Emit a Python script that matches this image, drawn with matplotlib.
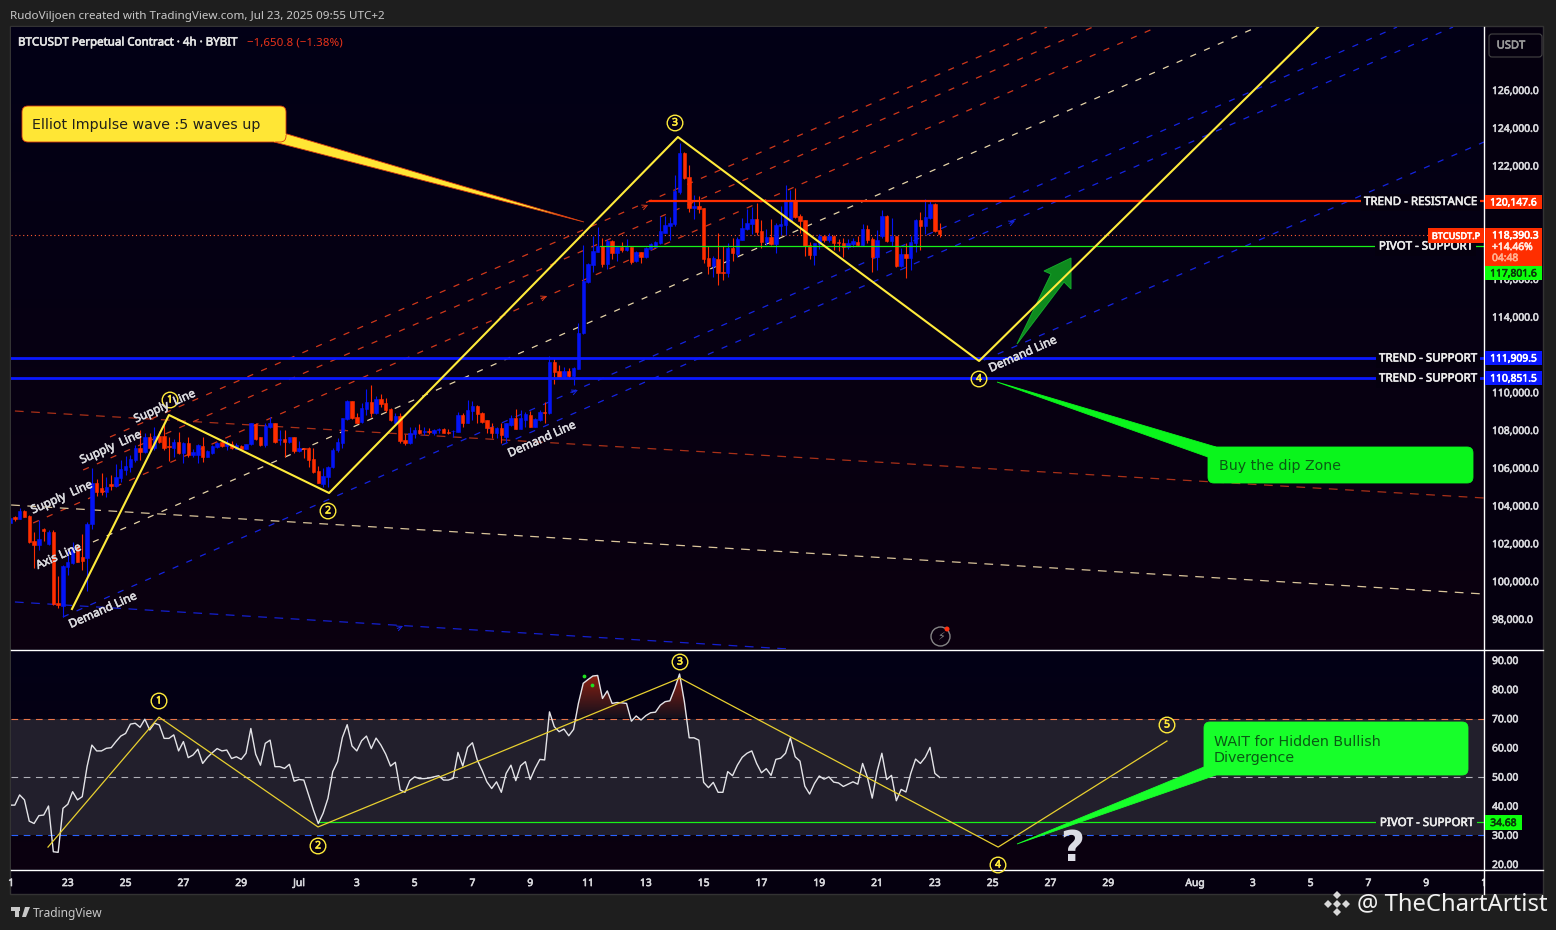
import numpy as np
import matplotlib
matplotlib.use('Agg')
import matplotlib.pyplot as plt
import matplotlib.patheffects as pe
from matplotlib.lines import Line2D
from matplotlib.patches import Polygon, Rectangle, FancyBboxPatch, Circle
from matplotlib.path import Path
from matplotlib.colors import LinearSegmentedColormap
from matplotlib.text import Text
from matplotlib.transforms import Affine2D

plt.rcParams['font.family'] = 'Noto Sans'

# 4h candles (Jun 21 - Jul 23)
opens = [103060,103380,103290,103730,103460,102100,101890,102740,101960,102620,98820,98680,100760,100940,101790,101290,101240,103020,105180,104910,
         104730,105140,105030,105460,105880,106060,106410,107030,106820,107610,107030,107680,107700,107150,107060,107360,106760,107330,106680,106680,
         107170,106550,106800,107080,107350,107170,107260,106990,107170,106990,107240,108320,107610,107190,108180,108390,107470,107520,107360,107610,
         106900,107030,107030,106450,105830,105140,105530,106020,106940,107290,108560,109530,108700,108420,109090,109480,108880,109640,109410,109090,
         108380,108760,107470,107290,107780,108000,107910,107940,107860,108000,108050,107910,107930,107910,108790,108380,109020,109270,108920,108530,
         108170,107860,108120,107640,108260,108630,108050,108530,108790,108170,108530,108950,108880,111600,111140,110820,111120,110860,111240,113120,
         115850,116730,117440,117740,116790,118000,117350,117700,117530,117700,116950,117420,117180,117560,117700,117880,118450,118800,118900,120620,
         122680,121390,119770,119860,119770,117090,116680,117030,116380,116290,117650,117320,118060,118640,118890,119170,118530,117930,118200,117830,
         118820,118850,119060,120160,119330,119120,117790,117260,117830,118270,118040,118270,117970,117900,117670,117850,117970,117790,118660,118110,
         117160,118290,119330,118000,118290,116680,117320,117100,117920,119120,118800,119220,119960,118590]
highs = [103500,103460,103850,103760,103500,102620,103230,102790,102700,102700,100270,100850,101640,102050,101910,102490,103150,105970,105400,105700,
         105530,105620,106200,106410,106620,106680,107200,108000,107820,107820,108140,107960,108350,107610,107500,107910,107380,107650,106980,107240,
         107650,106940,107200,107380,107470,107470,107430,107290,107200,107260,108390,108390,107610,108350,108670,108390,108000,108000,107650,107610,
         107430,107060,107120,107060,106110,105970,106090,107030,107560,108650,109580,109530,108880,109410,110150,110360,109800,109880,109670,109140,
         108880,108880,107780,108140,108170,108310,108140,108120,108050,108120,108080,108030,108000,108970,108880,109580,109550,109320,108970,108530,
         108350,108170,108350,108380,108790,109090,109060,108970,109020,108620,109060,109500,111910,111790,111440,111310,111280,111310,113680,117790,
         116820,118270,118760,118150,118090,118060,117700,117950,118130,117700,117490,117420,117670,117880,117990,119330,119330,119260,121500,123180,
         122700,122030,120440,120400,119770,117740,117210,118410,117740,117880,118150,118200,119200,119680,119820,120030,119120,118660,119170,118970,
         119860,120950,120700,120790,119430,119120,117970,117920,118370,118300,118410,118300,118110,118150,118090,118150,118270,118890,118830,118230,
         118590,119650,119380,119200,118290,117620,117880,118270,119150,119520,120210,120180,120030,118940]
lows = [103020,103160,103270,103370,102040,100710,101640,102120,101910,98730,98560,98080,100320,100890,100990,100590,99490,102760,104500,104560,
        104430,104820,105000,105260,105620,105790,106320,106410,106760,106850,106940,107290,106940,106360,106590,106730,106270,106590,106550,106230,
        106320,106550,106730,107030,107120,106940,106980,106980,106960,106970,107190,107470,107170,107120,108120,107290,107200,106550,107330,106800,
        106850,106500,106060,105700,105180,105000,105000,105970,106850,107030,108530,108560,108350,108380,108790,108670,108840,109230,108970,108490,
        108350,107330,107180,107260,107560,107780,107730,107780,107720,107860,107820,107770,107640,107890,108170,108350,108530,108350,108380,107820,
        107560,107560,107290,107380,108230,108030,108030,108170,108140,108140,108490,108350,108840,110430,110730,110780,110770,110380,111230,113080,
        115800,116380,117400,116650,116540,117070,116960,117400,117490,116790,116910,116860,117100,117530,117670,117850,118410,118060,118820,120480,
        121290,119560,119150,119470,116820,116240,116120,115680,115940,116120,116960,117180,118060,118590,118370,118320,117620,117790,117810,117390,
        118300,118320,119030,119240,118410,117210,117050,116730,117560,117970,117970,117530,117490,117140,117560,117670,117760,117760,117880,116380,
        116470,118150,117970,117740,116610,116610,116060,116470,117440,117530,118370,119150,118460,118200]
closes = [103320,103300,103710,103410,102070,101910,102210,102670,102620,98770,98750,100800,101010,101770,101030,101080,103020,105180,104730,104730,
          105000,105030,105490,105950,106090,106480,107030,106850,107610,107030,107680,107380,107030,107120,107360,106800,107330,106660,106850,107190,
          106550,106900,107170,107330,107170,107330,107030,107200,106990,107240,108350,107520,107200,108210,108390,107380,107520,107350,107610,106900,
          107030,106990,106410,105780,105210,105560,106060,106940,107380,108610,109530,108610,108380,109180,109500,108880,109660,109370,109060,108530,
          108760,107400,107330,107860,108000,107820,107940,107890,108000,108030,107860,107820,107960,108790,108350,109060,109270,108840,108440,108120,
          107860,108120,107730,108350,108630,108050,108630,108830,108170,108560,108970,108900,111620,111090,110820,111120,110860,111280,113120,115890,
          116790,117480,117760,116790,118000,117390,117670,117530,117670,116910,117440,117180,117650,117850,117950,118530,118850,118940,120650,122680,
          121360,119770,119860,119700,117050,116680,117090,116290,116290,117650,117390,118110,118690,118940,119170,118500,117950,118200,117850,118850,
          118900,120180,120180,119280,119060,117760,117260,117880,118270,118040,118290,117880,117900,117700,117920,117990,117790,118640,118040,117160,
          118060,119330,118000,118270,116680,117320,117100,117970,119120,118800,119260,119960,118530,118390]

# RSI, one value per candle
rsi = [40.2,40.2,43.7,42.0,34.7,33.9,36.6,36.8,39.9,24.2,24.0,39.1,40.5,44.8,42.0,43.1,53.4,60.8,58.8,58.8,
       59.7,59.9,62.0,63.9,64.8,68.0,68.3,66.9,69.7,66.0,68.3,67.7,63.1,63.1,64.3,58.8,62.0,56.5,57.4,59.4,
       54.5,56.6,58.2,59.6,58.8,59.1,56.2,56.8,55.9,58.0,66.5,57.7,53.9,61.4,62.5,53.4,53.4,52.8,54.2,48.4,
       49.0,48.8,43.7,38.5,33.9,37.4,42.5,51.7,55.1,63.4,67.8,60.5,58.8,62.3,63.9,59.6,63.2,60.8,57.7,53.6,
       54.9,45.4,44.6,48.6,49.9,49.3,49.3,49.5,49.9,50.3,48.8,48.8,49.4,58.3,53.6,60.0,61.6,55.7,52.2,48.2,
       45.9,48.2,44.6,51.1,53.9,48.6,53.7,55.1,49.0,52.8,55.9,55.7,72.2,67.1,65.4,66.3,64.0,66.2,75.1,82.0,
       83.3,84.5,84.7,76.8,79.4,75.1,75.4,75.3,75.1,69.0,70.8,69.4,70.9,71.9,72.1,74.5,75.7,76.0,80.2,85.2,
       75.7,63.3,63.3,62.5,48.0,46.2,48.0,44.6,44.6,51.7,50.3,53.9,56.6,58.0,58.8,54.5,51.3,52.7,50.4,55.9,
       56.3,58.0,63.3,56.8,55.3,46.7,44.0,47.6,50.2,49.1,49.9,48.1,47.8,46.6,47.4,48.2,47.4,54.5,49.7,42.6,
       51.7,58.0,49.0,50.4,41.7,45.6,44.7,51.1,56.0,54.5,56.6,60.0,51.1,49.7]

# drawings on the price pane: days from Jul 1, price
wave_days = [-7.855, -4.50, 1.04, 13.11, 23.53, 35.26]
wave_price = [98524, 108794, 104665, 123512, 111653, 129335]
red_channels = [([-6.54, 25.88], [107630, 129335]),
                ([-7.47, 27.47], [105883, 129335]),
                ([-9.20, 29.69], [103077, 129335])]
axis_channel = ([-7.13, 33.15], [102071, 129335])
blue_channels = [([-8.17, 37.99], [98101, 129335]),
                 ([7.02, 39.93], [107206, 129335]),
                 ([23.70, 41.0], [111706, 123247])]
flat_red = ([-9.83, 41.0], [109006, 104400])
flat_cream = ([-9.96, 41.0], [104030, 99318])
flat_blue = ([-9.83, 16.99], [98895, 96400])
# small direction marks left on the channel lines
red_marks = [(8.58, 115094), (12.08, 119912)]
blue_marks = [(9.65, 110118), (3.60, 97624), (24.77, 119065)]
# horizontal levels as they sit against the tick scale
resistance = 120097
pivot = 117760
support_a = 111825
support_b = 110755
last_price = 118324

# drawings on the RSI pane
rsi_wave_days = [-8.685, -4.844, 0.657, 13.18, 24.19, 30.03]
rsi_wave_val = [25.8, 70.4, 32.7, 83.8, 25.8, 62.2]
rsi_pivot = 34.4

# 112k, 118k and 120k are hidden behind price tags in the chart
price_ticks = [98000, 100000, 102000, 104000, 106000, 108000, 110000, 114000, 116000, 122000, 124000, 126000]
rsi_ticks = [20, 30, 40, 50, 60, 70, 80, 90]
time_ticks = [-9.96, -8, -6, -4, -2, 0, 2, 4, 6, 8, 10, 12, 14, 16, 18, 20, 22, 24, 26, 28, 31, 33, 35, 37, 39, 41]
time_labels = ['1', '23', '25', '27', '29', 'Jul', '3', '5', '7', '9', '11', '13', '15', '17', '19', '21', '23', '25', '27', '29',
               'Aug', '3', '5', '7', '9', '1']

W, H = 1556, 930
OUTER = '#1e1e1e'
PANEL = '#05000f'
UP = '#0414f5'
DOWN = '#ff2e00'
YELLOW = '#ffeb3b'
TXT = '#d8d8dc'

fig = plt.figure(figsize=(W / 100, H / 100), dpi=100, facecolor=OUTER)
# pixel coordinates for the labels and callouts that sit on the page
px = Affine2D().scale(1 / W, -1 / H).translate(0, 1) + fig.transFigure


def axes_box(x0, y0, x1, y1):
    return [x0 / W, 1 - y1 / H, (x1 - x0) / W, (y1 - y0) / H]


def hline(x0, y0, x1, y1, color='white', lw=1.0, z=6):
    fig.add_artist(Line2D([x0, x1], [y0, y1], color=color, lw=lw, transform=px, zorder=z))


def tag(x0, y0, x1, y1, color, text=None, tcolor='white', size=7.4):
    fig.add_artist(Rectangle((x0, y0), x1 - x0, y1 - y0, fc=color, ec='none', transform=px, zorder=7))
    if text:
        fig.text((x0 + x1) / 2, (y0 + y1) / 2, text, color=tcolor, fontsize=size, fontweight='bold',
                 ha='center', va='center', transform=px, zorder=8)


def circled(x, y, text):
    fig.text(x, y, text, color=YELLOW, fontsize=7.5, fontweight='bold', ha='center', va='center', transform=px, zorder=6,
             bbox=dict(boxstyle='circle,pad=0.22', fc='none', ec=YELLOW, lw=1.0))


def slanted(x, y, text, rot=24):
    fig.text(x, y, text, color=TXT, fontsize=8.4, fontweight='bold', rotation=rot, rotation_mode='anchor',
             ha='center', va='center', transform=px, zorder=6)


def level_label(x, y, text, bg=PANEL):
    fig.text(x, y, text, color='#ececec', fontsize=8.3, fontweight='bold', ha='right', va='center', transform=px, zorder=6,
             bbox=dict(fc=bg, ec='none', pad=2.5))


def callout(x0, y0, x1, y1, tail, fill, edge):
    fig.add_artist(Polygon(tail, closed=True, fc=fill, ec=edge, lw=0.6, transform=px, zorder=5))
    fig.add_artist(FancyBboxPatch((x0 + 5, y0 + 5), x1 - x0 - 10, y1 - y0 - 10, boxstyle='round,pad=5,rounding_size=6',
                                  fc=fill, ec=edge, lw=0.6, transform=px, zorder=5))
    fig.add_artist(Polygon([tail[0], tail[-1], ((tail[0][0] + tail[-1][0]) / 2 - 6, (tail[0][1] + tail[-1][1]) / 2 - 6)],
                           closed=True, fc=fill, ec='none', transform=px, zorder=5))


fig.add_artist(Rectangle((10, 26), 1533, 868, fc=PANEL, ec='#333333', lw=1, transform=px, zorder=-1))

ax = fig.add_axes(axes_box(11, 27, 1484, 649))
ax2 = fig.add_axes(axes_box(11, 650, 1484, 869))

bg = LinearSegmentedColormap.from_list('bg', ['#0b000f', '#020016'])
for a in (ax, ax2):
    a.imshow(np.linspace(0, 1, 64).reshape(-1, 1), cmap=bg, origin='lower', extent=(0, 1, 0, 1),
             transform=a.transAxes, aspect='auto', zorder=0)
    for s in a.spines.values():
        s.set_visible(False)

# candles
x = -10 + np.arange(len(opens)) / 6
o, h, l, c = map(np.array, (opens, highs, lows, closes))
col = np.where(c >= o, UP, DOWN)
ax.vlines(x, l, h, colors=col, lw=0.8, zorder=3)
ax.bar(x, np.abs(c - o), bottom=np.minimum(o, c), width=0.118, color=col, edgecolor=col, lw=0.4, zorder=3)

# channels
for dx_, dy_ in red_channels:
    ax.plot(dx_, dy_, color='#d0381a', lw=0.9, dashes=(5, 7), zorder=2)
ax.plot(*axis_channel, color='#e6d4a8', lw=0.9, dashes=(5, 7), zorder=2)
for dx_, dy_ in blue_channels:
    ax.plot(dx_, dy_, color='#1424e0', lw=0.9, dashes=(5, 7), zorder=2)
ax.plot(*flat_red, color='#a83018', lw=0.9, dashes=(7, 6), zorder=2)
ax.plot(*flat_cream, color='#d9c49a', lw=0.9, dashes=(7, 6), zorder=2)
ax.plot(*flat_blue, color='#1420d0', lw=0.9, dashes=(7, 6), zorder=2)
for marks, mc in ((red_marks, '#d0381a'), (blue_marks, '#1424e0')):
    for mx, my in marks:
        ax.annotate('', xy=(mx, my), xytext=(mx - 0.2, my - 130),
                    arrowprops=dict(arrowstyle='->', color=mc, lw=0.7, mutation_scale=9, shrinkA=0, shrinkB=0), zorder=2)

# levels
ax.plot([12.15, 41], [resistance, resistance], color=DOWN, lw=1.6, zorder=4)
ax.plot([10.42, 41], [pivot, pivot], color='#18f018', lw=0.9, zorder=4)
ax.axhline(support_a, color='#0a18ff', lw=2, zorder=4)
ax.axhline(support_b, color='#0a18ff', lw=2, zorder=4)
ax.axhline(last_price, color='#ff5a30', lw=0.8, dashes=(1, 2.5), zorder=2)

# green arrow sits under the wave line
ax.add_patch(Polygon([(1017, 344), (1051, 274), (1044, 271), (1071, 258), (1071, 289), (1064, 282)], closed=True,
                     fc='#0e8a1e', ec='#14a82a', lw=0.7, transform=px, zorder=4))

# wave count
ax.plot(wave_days, wave_price, color=YELLOW, lw=1.5, zorder=5)

ax.set_xlim(-9.965, 41.0)
ax.set_ylim(96406, 129335)
ax.set_xticks([])
ax.set_yticks(price_ticks)
ax.set_yticklabels([f'{v:,.1f}' for v in price_ticks])
ax.yaxis.tick_right()
ax.tick_params(axis='y', length=0, pad=5.8, labelsize=7.4, labelcolor=TXT)
for t in ax.get_yticklabels():
    t.set_fontweight('bold')

# RSI pane
ax2.axhspan(29.8, 69.8, color='#221f2c', zorder=1, lw=0)
ax2.axhline(69.8, color='#e8754a', lw=0.8, dashes=(6, 5), zorder=2)
ax2.axhline(49.9, color='#b0b0b8', lw=0.8, dashes=(6, 5), zorder=2)
ax2.axhline(29.8, color='#2962ff', lw=0.8, dashes=(6, 5), zorder=2)
r = np.array(rsi)
fill = ax2.fill_between(x, 70, r, where=r > 70, interpolate=True, color='none')
hot = LinearSegmentedColormap.from_list('hot_rsi', ['#14101c', '#8c2012'])
grad = ax2.imshow(np.linspace(0, 1, 64).reshape(-1, 1), cmap=hot, origin='lower', extent=(5, 20, 70, 85), aspect='auto', zorder=2)
grad.set_clip_path(Path.make_compound_path(*fill.get_paths()), transform=ax2.transData)
ax2.plot(x, r, color='#e4e4e8', lw=1.0, zorder=4)
ax2.plot([0.657, 41], [rsi_pivot, rsi_pivot], color='#18f018', lw=0.9, zorder=3)
ax2.plot(rsi_wave_days, rsi_wave_val, color='#e8d030', lw=0.9, zorder=5)
ax2.scatter([9.86, 10.14], [84.5, 81.4], s=3, color='#20e020', zorder=5)
ax2.set_xlim(-9.965, 41.0)
ax2.set_ylim(18.28, 93.43)
ax2.set_yticks(rsi_ticks)
ax2.set_yticklabels([f'{v:.2f}' for v in rsi_ticks])
ax2.yaxis.tick_right()
ax2.set_xticks(time_ticks)
ax2.set_xticklabels(time_labels)
ax2.tick_params(axis='y', length=0, pad=5.8, labelsize=7.4, labelcolor=TXT)
ax2.tick_params(axis='x', length=0, pad=6.5, labelsize=7.4, labelcolor=TXT)
for t in ax2.get_yticklabels() + ax2.get_xticklabels():
    t.set_fontweight('bold')

# frame lines
hline(11, 649.5, 1543, 649.5)
hline(11, 869.5, 1543, 869.5)
hline(1484.5, 27, 1484.5, 894)

# header and legend line
fig.text(10, 15, 'RudoViljoen created with TradingView.com, Jul 23, 2025 09:55 UTC+2', color='#c8c8c8', fontsize=8.4,
         va='center', transform=px)
fig.text(18, 42, 'BTCUSDT Perpetual Contract · 4h · BYBIT', color='#e4e4e4', fontsize=8.3, fontweight='bold', va='center', transform=px)
fig.text(247, 42, '−1,650.8 (−1.38%)', color='#e8331a', fontsize=8.3, va='center', transform=px)

# USDT button
fig.add_artist(FancyBboxPatch((1490, 35), 51, 21, boxstyle='round,pad=1,rounding_size=3', fc=PANEL, ec='#444444', lw=0.8, transform=px, zorder=7))
fig.text(1511, 45, 'USDT', color='#9a9a9a', fontsize=8, fontweight='bold', ha='center', va='center', transform=px, zorder=8)

# price tags
tag(1485, 195, 1542, 209, DOWN, '120,147.6')
tag(1428, 228, 1484, 243, DOWN, 'BTCUSDT.P', size=6.6)
tag(1485, 228, 1542, 266, DOWN)
fig.text(1492, 235, '118,390.3', color='white', fontsize=7.4, fontweight='bold', va='center', transform=px, zorder=8)
fig.text(1492, 246.5, '+14.46%', color='#ffe8e0', fontsize=7.4, fontweight='bold', va='center', transform=px, zorder=8)
fig.text(1492, 257.5, '04:48', color='#ffb090', fontsize=7.4, fontweight='bold', va='center', transform=px, zorder=8)
tag(1485, 266, 1542, 280, '#0cff0c', '117,801.6', tcolor='#0a3a0a')
tag(1485, 351, 1542, 365, '#0a18ff', '111,909.5')
tag(1485, 371, 1542, 385, '#0a18ff', '110,851.5')
tag(1485, 815, 1522, 830, '#0cff0c', '34.68', tcolor='#0a3a0a')

# level labels
level_label(1477, 201.5, 'TREND - RESISTANCE')
level_label(1473, 246, 'PIVOT - SUPPORT')
level_label(1477, 358, 'TREND - SUPPORT')
level_label(1477, 378, 'TREND - SUPPORT')
level_label(1474, 822.5, 'PIVOT - SUPPORT', bg='#221f2c')

# wave numbers
circled(170, 399, '1')
circled(328, 510, '2')
circled(675, 122, '3')
circled(979, 378, '4')
circled(159, 700, '1')
circled(318, 845, '2')
circled(680, 661, '3')
circled(998, 864, '4')
circled(1167, 724, '5')

# channel labels
slanted(62, 498, 'Supply  Line')
slanted(111, 448, 'Supply  Line')
slanted(165, 407, 'Supply  Line')
slanted(59, 557, 'Axis Line')
slanted(103, 611, 'Demand Line')
slanted(542, 440, 'Demand Line')
slanted(1023, 355, 'Demand Line')

# callouts
callout(22, 106, 286, 142, [(287, 134), (584, 222), (274, 142)], '#ffe635', '#d83a10')
fig.text(32, 124, 'Elliot Impulse wave :5 waves up', color='#20201a', fontsize=10.3, fontfamily='DejaVu Sans', va='center', transform=px, zorder=6)
callout(1208, 447, 1473, 483, [(1216, 447), (997, 382), (1208, 457)], '#0af51c', '#0af51c')
fig.text(1219, 465, 'Buy the dip Zone', color='#0a5a14', fontsize=10.2, fontfamily='DejaVu Sans', va='center', transform=px, zorder=6)
callout(1204, 722, 1468, 775, [(1204, 767), (1017, 844), (1216, 775)], '#17ff2a', '#17ff2a')
fig.text(1214, 741, 'WAIT for Hidden Bullish', color='#0a5a14', fontsize=10.3, fontfamily='DejaVu Sans', va='center', transform=px, zorder=6)
fig.text(1214, 757, 'Divergence', color='#0a5a14', fontsize=10.3, fontfamily='DejaVu Sans', va='center', transform=px, zorder=6)

# question mark
fig.text(1072, 848, '?', color='#dcdce4', fontsize=30, fontweight='bold', fontfamily='DejaVu Sans', ha='center', va='center', transform=px, zorder=6)

# lightning icon
fig.add_artist(Circle((940.5, 636.5), 9.5, fc='none', ec='#858585', lw=1.0, transform=px, zorder=6))
fig.text(940.5, 636.5, '⚡', color='#858585', fontsize=8, fontfamily='DejaVu Sans', ha='center', va='center', transform=px, zorder=6)
fig.add_artist(Circle((947, 629), 2.5, fc='#ff3010', ec='none', transform=px, zorder=7))

# footer
fig.add_artist(Rectangle((11, 907), 9, 4, fc='#c8c8c8', ec='none', transform=px, zorder=6))
fig.add_artist(Rectangle((15, 907), 4, 10, fc='#c8c8c8', ec='none', transform=px, zorder=6))
fig.add_artist(Polygon([(25, 907), (30, 907), (26, 917), (22, 917)], closed=True, fc='#c8c8c8', ec='none', transform=px, zorder=6))
fig.text(33, 912, 'TradingView', color='#c8c8c8', fontsize=8.6, va='center', transform=px)
for cx, cy in [(1337, 895), (1337, 912), (1328, 904), (1346, 904), (1337, 904)]:
    fig.add_artist(Polygon([(cx, cy - 4), (cx + 4, cy), (cx, cy + 4), (cx - 4, cy)], closed=True, fc='#d8d8d8', ec='none', transform=px, zorder=6))
fig.text(1357, 903, '@ TheChartArtist', color='#f0f0f0', fontsize=17.2, va='center', transform=px, zorder=6)

# page texts come out a pixel high with va=center
for t in fig.texts:
    if t.get_rotation() == 0:
        tx, ty = t.get_position()
        t.set_position((tx, ty + 1))

# Noto Sans has no bold face here, thicken those labels with a thin stroke
for t in fig.findobj(Text):
    if t.get_fontweight() == 'bold' and 'Noto Sans' in t.get_fontfamily():
        t.set_path_effects([pe.withStroke(linewidth=0.45, foreground=t.get_color())])

fig.savefig('out.png', dpi=100, facecolor=OUTER)
